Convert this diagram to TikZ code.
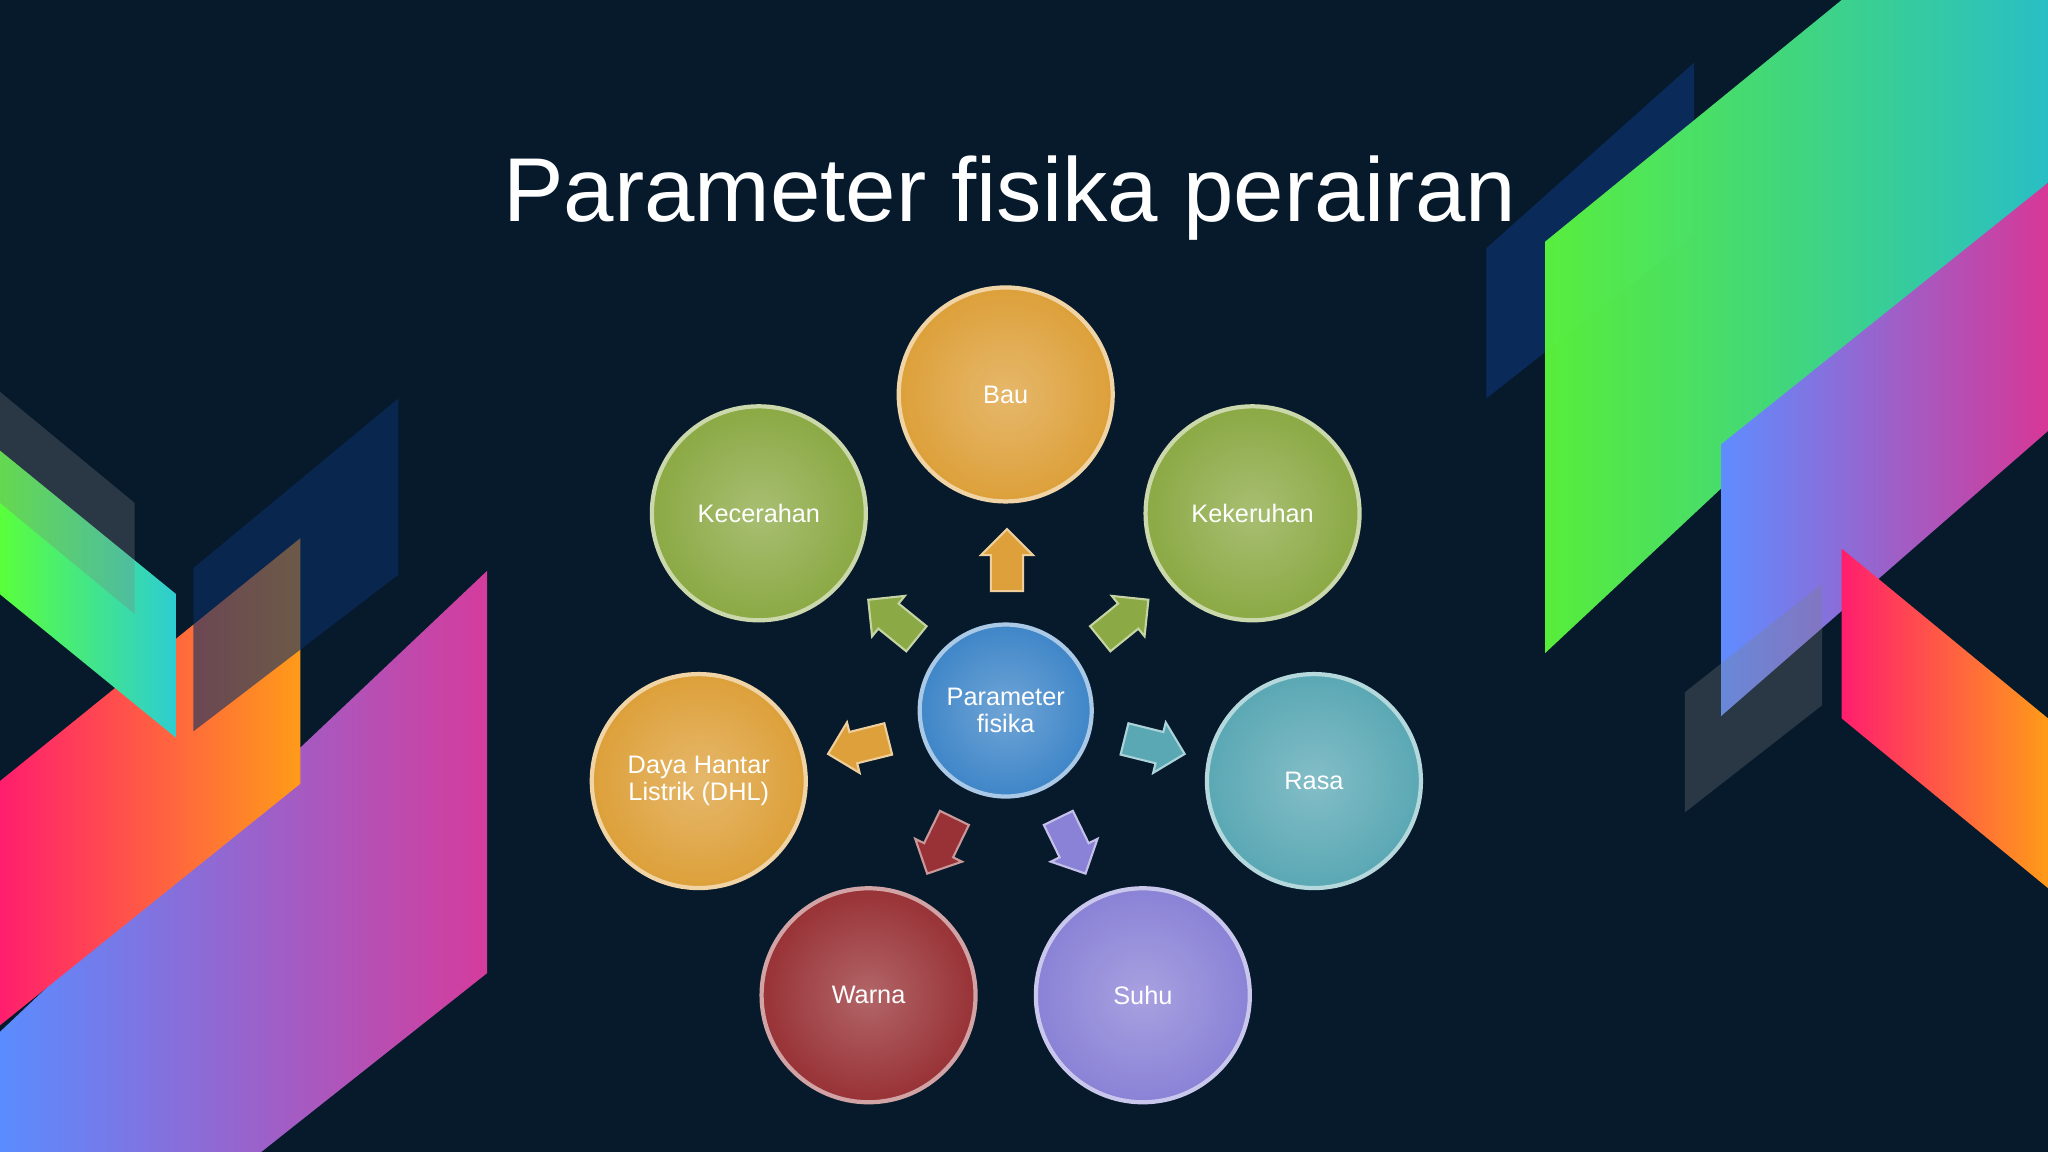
\documentclass[tikz,border=0pt]{standalone}
\usepackage{fontspec}
\setmainfont{Liberation Sans}
\usetikzlibrary{shapes.arrows}
\definecolor{bgnavy}{HTML}{061A2C}
\definecolor{cOrange}{HTML}{DDA03A}
\definecolor{cGreen}{HTML}{8BA944}
\definecolor{cTeal}{HTML}{5AA8B4}
\definecolor{cPurple}{HTML}{8A82D6}
\definecolor{cRed}{HTML}{983236}
\definecolor{cBlue}{HTML}{3F86C8}
\definecolor{deepblue}{HTML}{0B2E66}
\tikzset{
  ball/.style={circle, minimum size=2.14cm, inner sep=0pt, text=white, align=center,
    font=\fontsize{7.2}{7.8}\selectfont, inner color=#1!75!white, outer color=#1,
    draw=#1!45!white, line width=1.2pt},
  hub/.style={ball=#1, minimum size=1.72cm},
  pointer/.style={single arrow, draw=#1!50!white, fill=#1, minimum height=0.62cm,
    minimum width=0.52cm, inner sep=0.12cm, single arrow head extend=0.08cm, line width=0.6pt},
}
\begin{document}
\begin{tikzpicture}[x=0.013061cm,y=-0.013061cm]
\fill[bgnavy] (0,0) rectangle (1568,882);
\useasboundingbox (0,0) rectangle (1568,882);
% left decoration
\shade[left color={rgb,255:red,90;green,140;blue,255}, right color={rgb,255:red,212;green,60;blue,156}]
  (0,790) -- (373,437) -- (373,745) -- (200,882) -- (0,882) -- cycle;
\shade[left color={rgb,255:red,255;green,30;blue,110}, right color={rgb,255:red,255;green,155;blue,25}]
  (0,598) -- (230,412) -- (230,600) -- (0,785) -- cycle;
\shade[left color={rgb,255:red,90;green,255;blue,60}, right color={rgb,255:red,45;green,205;blue,210}]
  (0,345) -- (135,455) -- (135,565) -- (0,455) -- cycle;
\fill[gray, opacity=0.3] (0,300) -- (103,385) -- (103,470) -- (0,385) -- cycle;
\fill[deepblue, opacity=0.6] (148,435) -- (305,305) -- (305,440) -- (148,560) -- cycle;
% right decoration
\fill[deepblue, opacity=0.8] (1138,190) -- (1297,48) -- (1297,180) -- (1138,305) -- cycle;
\shade[left color={rgb,255:red,95;green,255;blue,60}, right color={rgb,255:red,45;green,205;blue,210}, opacity=0.92]
  (1183,185) -- (1410,0) -- (1568,0) -- (1568,140) -- (1183,500) -- cycle;
\shade[left color={rgb,255:red,95;green,140;blue,255}, right color={rgb,255:red,215;green,55;blue,150}]
  (1318,340) -- (1568,140) -- (1568,330) -- (1318,548) -- cycle;
\shade[left color={rgb,255:red,255;green,30;blue,110}, right color={rgb,255:red,255;green,155;blue,25}]
  (1410,420) -- (1568,550) -- (1568,680) -- (1410,550) -- cycle;
\fill[gray, opacity=0.3] (1290,530) -- (1395,447) -- (1395,540) -- (1290,622) -- cycle;
% title
\node[text=white, font=\fontsize{25.8}{30}\selectfont] (title) at (773,152) {Parameter fisika perairan};
% circles
\node[hub=cBlue] (hub) at (770,544) {Parameter\\fisika};
\node[ball=cOrange] (bau) at (770,302) {Bau};
\node[ball=cGreen] (cerah) at (581,393) {Kecerahan};
\node[ball=cGreen] (keruh) at (959,393) {Kekeruhan};
\node[ball=cOrange] (dhl) at (535,598) {Daya Hantar\\Listrik (DHL)};
\node[ball=cTeal] (rasa) at (1006,598) {Rasa};
\node[ball=cRed] (warna) at (665,762) {Warna};
\node[ball=cPurple] (suhu) at (875,762) {Suhu};
% arrows
\foreach \px/\py/\ang/\col [count=\i] in {771/435/90/cOrange, 688/478/141/cGreen, 856/478/39/cGreen,
    663/570/194/cOrange, 878/570/346/cTeal, 723/642/244/cRed, 818/642/296/cPurple}
  \node[pointer=\col, rotate=\ang] (arr\i) at (\px,\py) {};
\end{tikzpicture}
\end{document}
